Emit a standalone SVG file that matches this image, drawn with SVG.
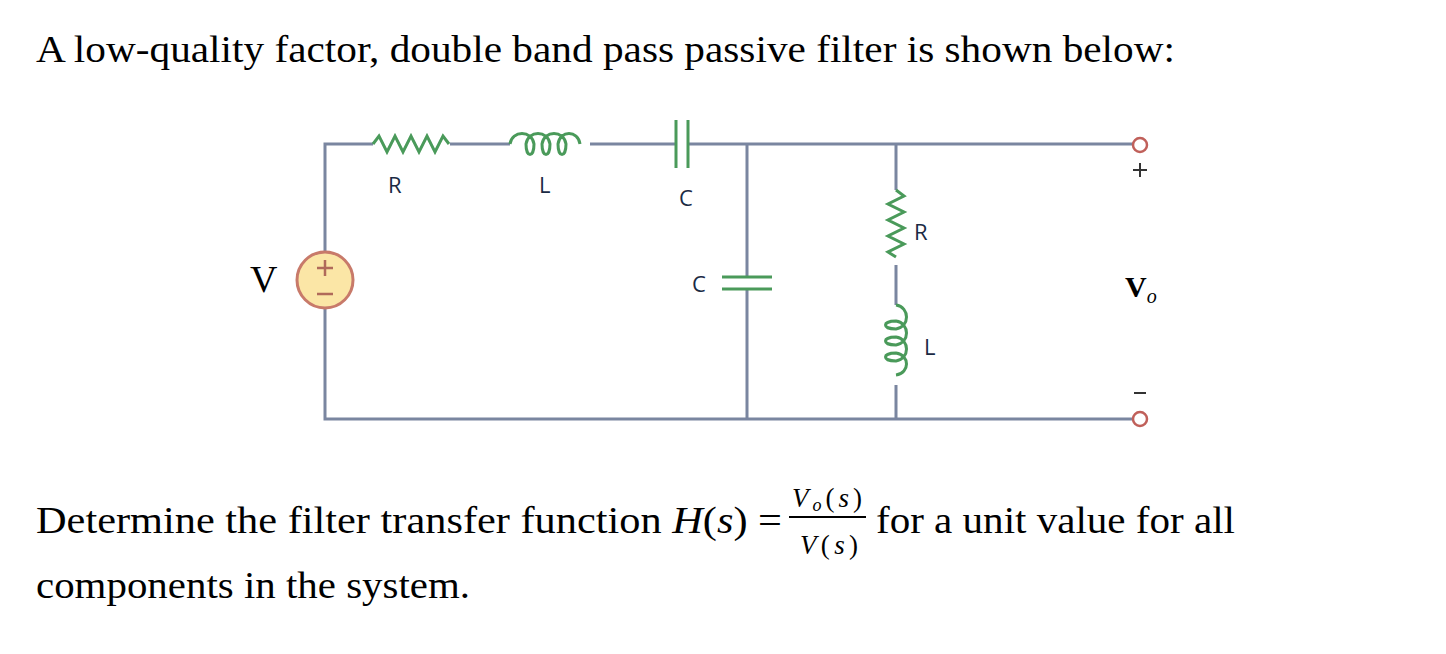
<svg xmlns="http://www.w3.org/2000/svg" width="1446" height="654" viewBox="0 0 1446 654">
<style>
.w{fill:none;stroke:#7a86a0;stroke-width:3}
.g{fill:none;stroke:#4a9a5a;stroke-width:3}
.t{font-family:"Liberation Serif",serif;font-size:38px;fill:#000}
.l{font-family:"Open Sans","Liberation Sans",sans-serif;font-size:22px;fill:#1a2a44}
.term{fill:#fff;stroke:#c0605a;stroke-width:2.5}
</style>
<rect width="1446" height="654" fill="#fff"/>
<text class="t" x="36" y="62" textLength="1139" lengthAdjust="spacingAndGlyphs">A low-quality factor, double band pass passive filter is shown below:</text>
<g id="wires">
<path class="w" d="M325,252 V144 H373 M450,144 H510 M590,144 H676 M688,144 H1133 M747,144 V277 M747,289 V419 M325,308 V419 H1133 M896,144 V190 M896,265 V305 M896,385 V419"/>
</g>
<g id="R1"><path class="g" d="M373,144 l6,-8 l8,16 l8,-16 l8,16 l8,-16 l8,16 l8,-16 l8,16 l8,-16 l6,8"/><text class="l" x="388" y="193">R</text></g>
<g id="L1"><path class="g" d="M510,144 c2,-14 22,-14 24,0 c0,14 -8,14 -8,0 c2,-14 22,-14 24,0 c0,14 -8,14 -8,0 c2,-14 22,-14 24,0 c0,14 -8,14 -8,0 c2,-14 20,-14 22,0"/><text class="l" x="539" y="193">L</text></g>
<g id="C1"><path class="g" d="M676,120 V168 M688,120 V168"/><text class="l" x="679" y="206">C</text></g>
<g id="C2"><path class="g" d="M722,277 H772 M722,289 H772"/><text class="l" x="692" y="292">C</text></g>
<g id="R2"><path class="g" d="M896,190 l8,6 l-16,8 l16,8 l-16,8 l16,8 l-16,8 l16,8 l-16,8 l8,5"/><text class="l" x="914" y="240">R</text></g>
<g id="L2"><path class="g" d="M896,305 c14,2 14,22 0,24 c-14,0 -14,-8 0,-8 c14,2 14,22 0,24 c-14,0 -14,-8 0,-8 c14,2 14,22 0,24 c-14,0 -14,-8 0,-8 c14,2 14,20 0,22"/><text class="l" x="924" y="355">L</text></g>
<g id="V"><circle cx="325" cy="280" r="28" fill="#fbe6a6" stroke="#c87a6a" stroke-width="3"/><path d="M317,268 H333 M325,260 V276 M317,294 H333" stroke="#b06a5a" stroke-width="2.5"/><text class="t" x="250" y="292" font-size="30">V</text></g>
<g id="Vo"><circle class="term" cx="1140" cy="145" r="7"/><circle class="term" cx="1140" cy="419" r="7"/><path d="M1133,170 H1147 M1140,163 V177 M1134,393 H1146" stroke="#333" stroke-width="2"/><text x="1125" y="297" font-family="Liberation Serif,serif" font-size="30" font-weight="bold">V<tspan font-size="20" font-style="italic" font-weight="normal" dy="6">o</tspan></text></g>
<text class="t" x="36" y="533" textLength="746" lengthAdjust="spacingAndGlyphs">Determine the filter transfer function <tspan font-style="italic">H</tspan>(<tspan font-style="italic">s</tspan>) =</text>
<text x="792" y="507" font-family="Liberation Serif,serif" font-size="27" font-style="italic" textLength="70">V<tspan font-size="18" dy="4">o</tspan><tspan dy="-4" font-style="normal">(</tspan>s<tspan font-style="normal">)</tspan></text>
<line x1="789" y1="517" x2="866" y2="517" stroke="#000" stroke-width="2"/>
<text x="800" y="554" font-family="Liberation Serif,serif" font-size="27" font-style="italic" textLength="58">V<tspan font-style="normal">(</tspan>s<tspan font-style="normal">)</tspan></text>
<text class="t" x="876" y="533" textLength="359" lengthAdjust="spacingAndGlyphs">for a unit value for all</text>
<text class="t" x="36" y="598" textLength="434" lengthAdjust="spacingAndGlyphs">components in the system.</text>
</svg>
